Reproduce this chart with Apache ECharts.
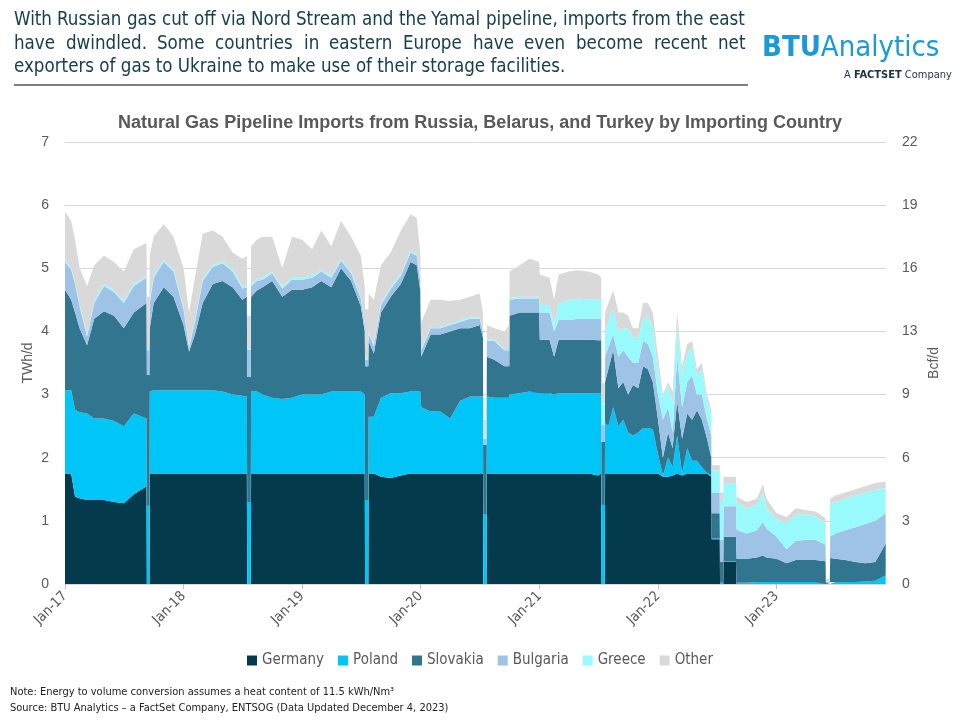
<!DOCTYPE html>
<html>
<head>
<meta charset="utf-8">
<title>Natural Gas Pipeline Imports</title>
<script src="https://cdn.jsdelivr.net/npm/echarts@6/dist/echarts.min.js"></script>
<style>
  html, body { margin: 0; padding: 0; background: #fff; }
  #chart { width: 960px; height: 720px; }
</style>
</head>
<body>
<div id="chart"></div>
<script>
// daily flows, TWh/d (dips = Nord Stream maintenance)
const dates = [
  '2017-01-01','2017-01-20','2017-02-01','2017-02-15','2017-03-10','2017-04-01','2017-05-01','2017-06-01','2017-07-01','2017-08-01',
  '2017-09-09','2017-09-10','2017-09-18','2017-09-19','2017-10-01','2017-11-01','2017-12-01','2018-01-01','2018-01-18','2018-02-05',
  '2018-03-01','2018-04-01','2018-05-01','2018-06-01','2018-07-01','2018-07-15','2018-07-16','2018-07-27','2018-07-28','2018-08-15',
  '2018-09-01','2018-10-01','2018-11-01','2018-12-01','2019-01-01','2019-02-01','2019-03-01','2019-04-01','2019-05-01','2019-06-01',
  '2019-07-01','2019-07-13','2019-07-14','2019-07-24','2019-07-25','2019-08-10','2019-09-01','2019-10-01','2019-11-01','2019-12-01',
  '2019-12-20','2019-12-31','2020-01-03','2020-02-01','2020-03-01','2020-04-01','2020-05-01','2020-06-01','2020-07-01','2020-07-11',
  '2020-07-12','2020-07-22','2020-07-23','2020-08-15','2020-09-15','2020-09-30','2020-10-01','2020-11-01','2020-12-01','2020-12-31',
  '2021-01-02','2021-02-01','2021-02-15','2021-03-01','2021-04-01','2021-05-01','2021-06-01','2021-07-01','2021-07-10','2021-07-11',
  '2021-07-21','2021-07-22','2021-08-01','2021-08-16','2021-09-01','2021-09-16','2021-10-01','2021-10-16','2021-11-01','2021-11-16',
  '2021-12-01','2021-12-16','2022-01-01','2022-01-16','2022-02-01','2022-02-15','2022-03-01','2022-03-16','2022-04-01','2022-04-16',
  '2022-05-01','2022-05-16','2022-06-01','2022-06-14','2022-06-15','2022-07-10','2022-07-11','2022-07-21','2022-07-22','2022-08-29',
  '2022-08-31','2022-10-01','2022-11-01','2022-11-20','2022-12-01','2023-01-01','2023-02-01','2023-03-01','2023-04-01','2023-05-01',
  '2023-06-01','2023-06-02','2023-06-14','2023-06-15','2023-07-01','2023-08-01','2023-09-01','2023-10-01','2023-11-01','2023-12-03'
];

const germany = [
  1.75,1.75,1.38,1.36,1.33,1.33,1.33,1.30,1.28,1.42,
  1.55,0,0,1.75,1.75,1.75,1.75,1.75,1.75,1.75,
  1.75,1.75,1.75,1.75,1.75,1.75,0,0,1.75,1.75,
  1.75,1.75,1.75,1.75,1.75,1.75,1.75,1.75,1.75,1.75,
  1.75,1.75,0,0,1.75,1.75,1.70,1.68,1.72,1.75,
  1.75,1.75,1.75,1.75,1.75,1.75,1.75,1.75,1.75,1.75,
  0,0,1.75,1.75,1.75,1.75,1.75,1.75,1.75,1.75,
  1.75,1.75,1.75,1.75,1.75,1.75,1.75,1.72,1.75,0,
  0,1.75,1.75,1.75,1.75,1.75,1.75,1.75,1.75,1.75,
  1.75,1.75,1.75,1.70,1.70,1.72,1.75,1.72,1.75,1.75,
  1.75,1.75,1.75,1.70,0.71,0.71,0,0,0.35,0.35,
  0,0,0,0,0,0,0,0,0,0,
  0,0,0,0,0,0,0,0,0,0
];

const poland = [
  1.32,1.32,1.38,1.36,1.37,1.29,1.29,1.28,1.22,1.28,
  1.07,1.24,1.24,1.30,1.32,1.32,1.32,1.32,1.32,1.32,
  1.32,1.32,1.30,1.25,1.23,1.22,1.30,1.30,1.30,1.30,
  1.25,1.20,1.18,1.20,1.25,1.25,1.25,1.30,1.30,1.30,
  1.30,1.25,1.33,1.33,0.90,0.90,1.25,1.34,1.30,1.30,
  1.30,1.30,1.05,0.98,0.98,0.87,1.15,1.22,1.22,1.22,
  1.10,1.10,1.22,1.20,1.20,1.20,1.25,1.27,1.30,1.30,
  1.27,1.27,1.25,1.27,1.27,1.27,1.27,1.30,1.27,1.25,
  1.25,0.80,0.75,1.05,0.75,0.85,0.65,0.60,0.65,0.72,
  0.72,0.70,0.30,0.02,0.30,0.13,0.60,0.03,0.40,0.20,
  0.20,0.10,0.01,0.02,0.01,0.01,0.02,0.02,0.01,0.01,
  0.02,0.02,0.03,0.03,0.03,0.03,0.03,0.03,0.03,0.03,
  0.03,0,0,0.03,0.03,0.03,0.03,0.04,0.05,0.14
];

const slovakia = [
  1.59,1.43,1.54,1.33,1.08,1.58,1.70,1.67,1.55,1.60,
  1.83,2.07,2.07,1.00,1.38,1.63,1.48,1.03,0.61,0.88,
  1.38,1.68,1.75,1.70,1.52,1.58,1.98,1.98,1.50,1.60,
  1.70,1.85,1.62,1.71,1.66,1.70,1.80,1.65,1.95,1.75,
  1.35,1.00,2.12,2.12,1.20,1.00,1.35,1.53,1.73,2.05,
  2.00,1.60,0.80,1.22,1.22,1.38,1.15,1.08,1.13,0.93,
  1.10,1.10,0.63,0.60,0.50,0.50,1.25,1.28,1.25,1.25,
  0.85,0.85,0.60,0.85,0.85,0.85,0.85,0.84,0.84,1.00,
  1.00,0.65,0.90,0.90,0.60,0.60,0.60,0.80,0.70,0.98,
  0.93,0.75,0.55,0.28,0.40,0.30,0.55,0.55,0.55,0.65,
  0.80,0.75,0.54,0.28,0.40,0.40,0.33,0.33,0.39,0.39,
  0.38,0.38,0.39,0.42,0.39,0.37,0.30,0.35,0.35,0.35,
  0.33,0.02,0.02,0.38,0.37,0.35,0.32,0.29,0.30,0.50
];

const bulgaria = [
  0.44,0.48,0.45,0.35,0.14,0.25,0.40,0.37,0.40,0.42,
  0.40,0.39,0.39,0.40,0.40,0.40,0.40,0.25,0.06,0.20,
  0.35,0.27,0.28,0.25,0.18,0.15,0.43,0.43,0.17,0.15,
  0.12,0.12,0.13,0.16,0.16,0.15,0.15,0.15,0.12,0.12,
  0.12,0.10,0.10,0.10,0.12,0.12,0.12,0.12,0.13,0.15,
  0.15,0.15,0.10,0.10,0.10,0.10,0.10,0.15,0.10,0.10,
  0.10,0.10,0.25,0.30,0.25,0.25,0.25,0.22,0.22,0.22,
  0.43,0.43,0.40,0.31,0.31,0.33,0.33,0.34,0.34,0.27,
  0.27,0.40,0.35,0.25,0.50,0.50,0.60,0.35,0.40,0.40,
  0.40,0.40,0.40,0.60,0.40,0.25,0.70,0.50,0.50,0.70,
  0.25,0.40,0.30,0.35,0.32,0.32,0.35,0.35,0.48,0.48,
  0.46,0.40,0.43,0.53,0.46,0.35,0.22,0.30,0.32,0.32,
  0.26,0.02,0.02,0.34,0.40,0.47,0.55,0.62,0.65,0.48
];

const greece = [
  0.03,0.03,0.03,0.03,0.03,0.03,0.03,0.03,0.03,0.03,
  0.03,0.02,0.02,0.03,0.03,0.03,0.03,0.03,0.02,0.03,
  0.03,0.03,0.03,0.03,0.03,0.03,0.02,0.02,0.03,0.03,
  0.03,0.03,0.03,0.03,0.03,0.03,0.03,0.03,0.03,0.03,
  0.03,0.03,0.03,0.03,0.03,0.03,0.03,0.03,0.03,0.03,
  0.03,0.03,0.02,0.02,0.02,0.02,0.02,0.02,0.02,0.02,
  0.02,0.02,0.02,0.02,0.02,0.02,0.03,0.03,0.03,0.03,
  0.12,0.12,0.10,0.27,0.32,0.32,0.30,0.30,0.30,0.34,
  0.34,0.40,0.40,0.40,0.40,0.35,0.45,0.40,0.40,0.35,
  0.43,0.45,0.35,0.35,0.35,0.45,0.50,0.50,0.45,0.45,
  0.30,0.40,0.30,0.30,0.36,0.36,0.60,0.60,0.37,0.37,
  0.42,0.40,0.40,0.47,0.32,0.28,0.41,0.42,0.40,0.37,
  0.34,0.02,0.02,0.53,0.50,0.50,0.50,0.49,0.49,0.40
];

const other = [
  0.77,0.74,0.67,0.57,0.77,0.57,0.45,0.45,0.47,0.55,
  0.52,0.83,0.83,0.72,0.62,0.57,0.52,0.62,0.54,0.67,
  0.72,0.55,0.39,0.27,0.44,0.47,0.52,0.52,0.60,0.62,
  0.65,0.55,0.29,0.65,0.60,0.42,0.62,0.47,0.60,0.55,
  0.65,0.57,0.77,0.77,0.60,0.70,0.60,0.55,0.69,0.57,
  0.57,0.42,0.43,0.43,0.43,0.36,0.33,0.33,0.38,0.28,
  0.28,0.28,0.23,0.18,0.28,0.38,0.42,0.50,0.60,0.55,
  0.48,0.43,0.40,0.45,0.45,0.45,0.45,0.40,0.35,0.32,
  0.32,0.30,0.30,0.30,0.30,0.25,0.20,0.15,0.15,0.25,
  0.22,0.25,0.25,0.05,0.05,0.20,0.20,0.15,0.15,0.10,
  0.10,0.10,0.10,0.10,0.08,0.08,0.15,0.15,0.10,0.10,
  0.10,0.10,0.10,0.13,0.15,0.09,0.10,0.10,0.07,0.08,
  0.08,0.02,0.02,0.07,0.10,0.10,0.10,0.11,0.11,0.10
];

const seriesNames = ['Germany', 'Poland', 'Slovakia', 'Bulgaria', 'Greece', 'Other'];
const seriesValues = [germany, poland, slovakia, bulgaria, greece, other];
const seriesColors = ['#033b4d', '#00c6f8', '#31758f', '#9fc3e6', '#99fafc', '#d9d9d9'];
const leftTicks = [0, 7, 1];       // min, max, step (TWh/d)
const rightTicks = [0, 22];        // Bcf/d
const monthNames = ['Jan','Feb','Mar','Apr','May','Jun','Jul','Aug','Sep','Oct','Nov','Dec'];

const headerLines = [
  'With Russian gas cut off via Nord Stream and the Yamal pipeline, imports from the east',
  'have dwindled. Some countries in eastern Europe have even become recent net',
  'exporters of gas to Ukraine to make use of their storage facilities.'
];

const narrow = '"Liberation Sans Narrow", "DejaVu Sans Condensed", sans-serif';
const headerFont = '18.6px ' + narrow;
const headerColor = '#17404f';
const DAY = 86400000;

// spread the words of a header line over the full width (justified text)
function justifiedLine(text, top, width) {
  const ctx = document.createElement('canvas').getContext('2d');
  ctx.font = headerFont;
  const words = text.split(' ');
  const widths = words.map(function (w) { return ctx.measureText(w).width; });
  const used = widths.reduce(function (a, b) { return a + b; }, 0);
  const gap = (width - used) / (words.length - 1);
  let x = 14;
  return words.map(function (w, i) {
    const el = { type: 'text', left: Math.round(x), top: top, style: { text: w, font: headerFont, fill: headerColor } };
    x += widths[i] + gap;
    return el;
  });
}

const chart = echarts.init(document.getElementById('chart'));

const series = seriesNames.map(function (name, k) {
  return {
    name: name,
    type: 'line',
    stack: 'total',
    yAxisIndex: 0,
    showSymbol: false,
    symbol: 'none',
    lineStyle: { width: 0 },
    areaStyle: { color: seriesColors[k], opacity: 1 },
    itemStyle: { color: seriesColors[k] },
    emphasis: { disabled: true },
    data: dates.map(function (d, i) { return [d, seriesValues[k][i]]; })
  };
});

const option = {
  animation: false,
  backgroundColor: '#fff',
  title: {
    text: 'Natural Gas Pipeline Imports from Russia, Belarus, and Turkey by Importing Country',
    left: 'center',
    top: 109,
    textStyle: { fontFamily: 'Liberation Sans', fontSize: 18, fontWeight: 'bold', color: '#595959' }
  },
  legend: {
    bottom: 47,
    left: 'center',
    icon: 'rect',
    itemWidth: 10,
    itemHeight: 10,
    itemGap: 14,
    textStyle: { fontFamily: narrow, fontSize: 15, color: '#595959' },
    data: seriesNames
  },
  grid: { left: 65, right: 74, top: 142, bottom: 136 },
  xAxis: {
    type: 'time',
    min: '2017-01-01',
    max: '2023-12-04',
    minInterval: 365 * DAY,
    maxInterval: 366 * DAY,
    axisLine: { lineStyle: { color: '#d9d9d9' } },
    axisTick: { show: true, length: 5, lineStyle: { color: '#bfbfbf' } },
    splitLine: { show: false },
    axisLabel: {
      rotate: 45,
      fontFamily: narrow,
      fontSize: 14,
      color: '#595959',
      margin: 10,
      formatter: function (v) {
        const d = new Date(v);
        return monthNames[d.getMonth()] + '-' + String(d.getFullYear()).slice(2);
      }
    }
  },
  yAxis: [
    {
      type: 'value',
      min: leftTicks[0],
      max: leftTicks[1],
      interval: leftTicks[2],
      name: 'TWh/d',
      nameLocation: 'middle',
      nameRotate: 90,
      nameGap: 30,
      nameMoveOverlap: false,
      nameTextStyle: { fontFamily: 'Liberation Sans', fontSize: 14, color: '#595959' },
      axisLine: { show: false },
      axisTick: { show: false },
      axisLabel: { fontFamily: 'Liberation Sans', fontSize: 14, color: '#595959', margin: 16 },
      splitLine: { lineStyle: { color: '#d9d9d9' } }
    },
    {
      type: 'value',
      position: 'right',
      min: rightTicks[0],
      max: rightTicks[1],
      interval: (rightTicks[1] - rightTicks[0]) / 7,
      name: 'Bcf/d',
      nameLocation: 'middle',
      nameRotate: 90,
      nameGap: 41,
      nameMoveOverlap: false,
      nameTextStyle: { fontFamily: 'Liberation Sans', fontSize: 14, color: '#595959' },
      axisLine: { show: false },
      axisTick: { show: false },
      axisLabel: {
        fontFamily: 'Liberation Sans', fontSize: 14, color: '#595959', margin: 16,
        formatter: function (v) { return Math.round(v); }
      },
      splitLine: { show: false }
    }
  ],
  series: series,
  graphic: [].concat(
    justifiedLine(headerLines[0], 11, 731),
    justifiedLine(headerLines[1], 35, 731),
    [
      { type: 'text', left: 14, top: 58, style: { text: headerLines[2], font: headerFont, fill: headerColor } },
      { type: 'line', shape: { x1: 14, y1: 85, x2: 748, y2: 85 }, style: { stroke: '#7f7f7f', lineWidth: 2 } },
      {
        type: 'text', left: 762, top: 34,
        style: {
          text: '{b|BTU}{r|Analytics}',
          rich: {
            b: { fontFamily: narrow, fontSize: 29, fontWeight: 'bold', fill: '#1c9ad6', color: '#1c9ad6' },
            r: { fontFamily: narrow, fontSize: 29, fill: '#1c9ad6', color: '#1c9ad6' }
          }
        }
      },
      {
        type: 'text', left: 844, top: 70,
        style: {
          text: '{a|A }{b|FACTSET}{a| Company}',
          rich: {
            a: { fontFamily: narrow, fontSize: 11, fill: '#1d2f4a', color: '#1d2f4a' },
            b: { fontFamily: narrow, fontSize: 11, fontWeight: 'bold', fill: '#1d2f4a', color: '#1d2f4a' }
          }
        }
      },
      { type: 'text', left: 10, top: 687, style: { text: 'Note: Energy to volume conversion assumes a heat content of 11.5 kWh/Nm³', font: '11px ' + narrow, fill: '#222' } },
      { type: 'text', left: 10, top: 703, style: { text: 'Source: BTU Analytics – a FactSet Company, ENTSOG (Data Updated December 4, 2023)', font: '11px ' + narrow, fill: '#222' } }
    ]
  )
};

chart.setOption(option);
</script>
</body>
</html>
